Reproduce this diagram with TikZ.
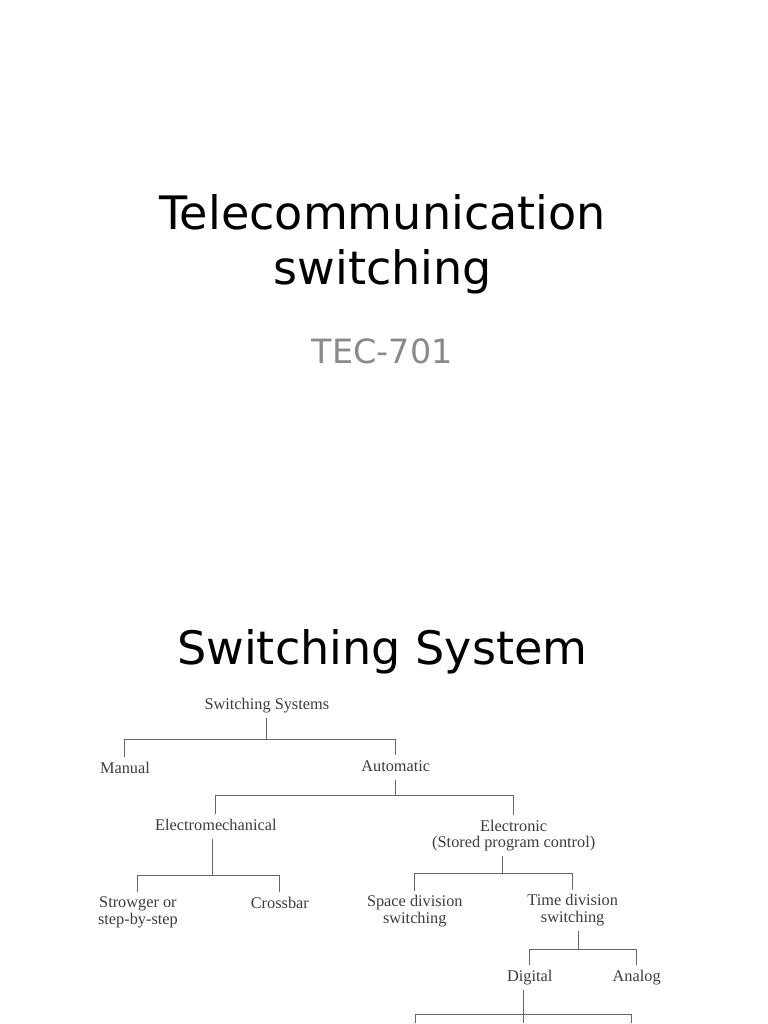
\documentclass[tikz,border=0pt]{standalone}
\usepackage{fontspec}
\setmainfont{Liberation Serif}
\newfontfamily\slidefont{DejaVu Sans}
\usepackage{tikz}
\definecolor{scanink}{HTML}{3C3C3C}
\definecolor{scanline}{HTML}{666666}
\definecolor{subgray}{HTML}{8A8A8A}

\begin{document}
\begin{tikzpicture}[x=0.025cm, y=-0.025cm,
  head/.style = {anchor=base, font=\slidefont\fontsize{32.8}{34}\selectfont},
  item/.style = {text=scanink, font=\fontsize{11.6}{12}\selectfont, text height=8.1pt, text depth=2.6pt},
  multi/.style = {text=scanink, font=\fontsize{11.6}{12}\selectfont, align=center},
  edge/.style = {draw=scanline, line width=.8pt}]
        \path[fill=white] (0,0) rectangle (768,1024);
        % slide titles
        \node[head] (title) at (383,230) {Telecommunication};
        \node[head] (title2) at (383,285) {switching};
        \node[anchor=base, text=subgray, font=\slidefont\fontsize{23.8}{26}\selectfont] (course) at (382.5,364) {TEC-701};
        \node[head] (heading) at (382.5,665) {Switching System};
        % tree
        \node[item] (sys) at (267,706) {Switching Systems};
        \node[item] (manual) at (125,770) {Manual};
        \node[item] (auto) at (396,768) {Automatic};
        \node[item] (emech) at (216,827) {Electromechanical};
        \node[multi] (eltr) at (514,836) {Electronic\\(Stored program control)};
        \node[multi] (strow) at (138,913) {Strowger or\\step-by-step};
        \node[item] (cross) at (280,905) {Crossbar};
        \node[multi] (space) at (415,912) {Space division\\switching};
        \node[multi] (time) at (573,911) {Time division\\switching};
        \node[item] (digital) at (530,978) {Digital};
        \node[item] (analog) at (637,978) {Analog};
        \coordinate (j1) at (267,740);
        \coordinate (j2) at (396,796);
        \coordinate (j3) at (213,876);
        \coordinate (j4) at (503,874);
        \coordinate (j5) at (579,950);
        \coordinate (j6) at (524,1015);
        \coordinate (d1) at (416,1024);
        \coordinate (d2) at (524,1024);
        \coordinate (d3) at (632,1024);
        \draw[edge] (sys) -- (j1);
        \draw[edge] (manual) |- (j1) -| (auto);
        \draw[edge] (auto) -- (j2);
        \draw[edge] (emech) |- (j2) -| (eltr);
        \draw[edge] (emech.south -| j3) -- (j3);
        \draw[edge] (strow) |- (j3) -| (cross);
        \draw[edge] (eltr.south -| j4) -- (j4);
        \draw[edge] (space) |- (j4) -| (time);
        \draw[edge] (time.south -| j5) -- (j5);
        \draw[edge] (digital) |- (j5) -| (analog);
        \draw[edge] (digital.south -| j6) -- (d2);
        \draw[edge] (d1) |- (j6) -| (d3);
\end{tikzpicture}
\end{document}
